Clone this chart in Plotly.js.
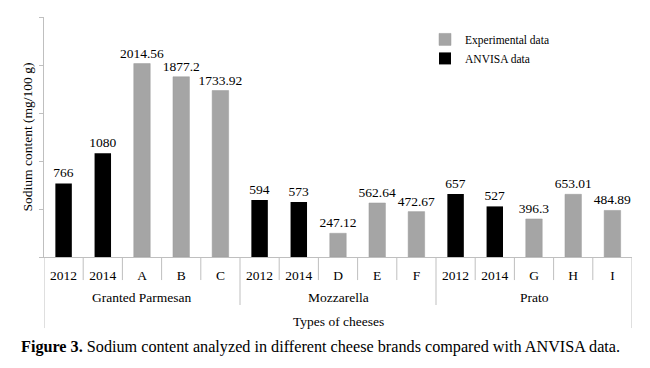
<!DOCTYPE html>
<html><head><meta charset="utf-8">
<script src="https://cdn.plot.ly/plotly-3.0.1.min.js"></script>
<style>body{margin:0;background:#fff}#c{width:650px;height:368px}</style>
</head><body><div id="c"></div>
<script>
const groups = ["Granted Parmesan","Mozzarella","Prato"];
const groupCats = [["2012","2014","A","B","C"],["2012","2014","D","E","F"],["2012","2014","G","H","I"]];
const anvisaValues = [[766,1080,null,null,null],[594,573,null,null,null],[657,527,null,null,null]];
const expValues = [[null,null,2014.56,1877.2,1733.92],[null,null,247.12,562.64,472.67],[null,null,396.3,653.01,484.89]];
const seriesNames = ["Experimental data","ANVISA data"];
const yTicks = [0,500,1000,1500,2000,2500];

const keys=[], labels=[], expX=[], expY=[], anX=[], anY=[];
groups.forEach((g,gi)=>groupCats[gi].forEach((c,ci)=>{
  const k=g+"|"+c; keys.push(k); labels.push(c);
  if(expValues[gi][ci]!=null){expX.push(k);expY.push(expValues[gi][ci]);}
  if(anvisaValues[gi][ci]!=null){anX.push(k);anY.push(anvisaValues[gi][ci]);}
}));
const F="'Liberation Serif', serif";
const grey="#bfbfbf";
const tf={family:F,size:13.5,color:"#000"};
const traces=[
 {type:"bar",name:seriesNames[0],x:expX,y:expY,width:0.42,marker:{color:"#a5a5a5",line:{color:"#9a9a9a",width:0.5}},
  text:expY.map(String),textposition:"outside",constraintext:"none",textfont:tf,outsidetextfont:tf,cliponaxis:false},
 {type:"bar",name:seriesNames[1],x:anX,y:anY,width:0.42,marker:{color:"#000"},
  text:anY.map(String),textposition:"outside",constraintext:"none",textfont:tf,outsidetextfont:tf,cliponaxis:false}
];
const shapes=[], ann=[];
const n=keys.length;
for(let i=0;i<=n;i++){
  let bottom=-0.096;
  let cum=0, isGroup=false;
  for(let gi=0;gi<groups.length;gi++){cum+=groupCats[gi].length; if(cum===i) isGroup=true;}
  if(i===0||i===n) bottom=-0.296; else if(isGroup) bottom=-0.2;
  shapes.push({type:"line",xref:"x",yref:"paper",x0:i-0.5,x1:i-0.5,y0:0,y1:bottom,line:{color:grey,width:1}});
}
let start=0;
groups.forEach((g,gi)=>{
  const len=groupCats[gi].length;
  ann.push({xref:"x",yref:"paper",x:start+(len-1)/2,y:-0.167,text:g,showarrow:false,font:tf,yanchor:"middle"});
  start+=len;
});
ann.push({xref:"paper",yref:"paper",x:0.5,y:-0.27,text:"Types of cheeses",showarrow:false,font:tf,yanchor:"middle"});
ann.push({xref:"paper",yref:"paper",x:-0.043,xanchor:"left",y:-0.375,text:"<b>Figure 3.</b> Sodium content analyzed in different cheese brands compared with ANVISA data.",showarrow:false,font:{family:F,size:16.2,color:"#000"},yanchor:"middle"});

const layout={
 width:650,height:368,margin:{l:44,r:18,t:17,b:111},
 paper_bgcolor:"#fff",plot_bgcolor:"#fff",barmode:"overlay",
 font:{family:F,color:"#000"},
 showlegend:true,
 legend:{x:0.648,y:0.967,xanchor:"left",yanchor:"top",font:{family:F,size:11.5,color:"#000"},traceorder:"normal",bgcolor:"rgba(0,0,0,0)"},
 xaxis:{type:"category",categoryorder:"array",categoryarray:keys,tickvals:keys,ticktext:labels,range:[-0.5,n-0.5],
   showline:true,linecolor:grey,linewidth:1,ticks:"outside",ticklen:6,tickcolor:"rgba(0,0,0,0)",showgrid:false,zeroline:false,
   tickfont:tf,tickangle:0},
 yaxis:{range:[0,2500],tickvals:yTicks,showticklabels:false,ticks:"outside",ticklen:4,tickcolor:grey,showline:true,linecolor:grey,linewidth:1,
   showgrid:false,zeroline:false,title:{text:"Sodium content (mg/100 g)",font:tf,standoff:3}},
 shapes:shapes,annotations:ann
};
Plotly.newPlot("c",traces,layout,{displayModeBar:false,staticPlot:true});
</script></body></html>
